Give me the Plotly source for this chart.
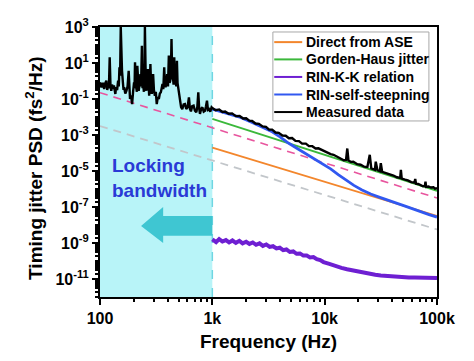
import plotly.graph_objects as go
import numpy as np

# ---------------- data ----------------
# Measured data: frequency (Hz) and log10 PSD (fs^2/Hz)
meas_f = [100, 103, 106, 109, 111, 114, 116, 118, 120, 122, 124, 126, 128, 130.6, 133, 135, 137,
          139, 142, 145, 147, 149, 151, 153, 155, 157, 160, 162, 164, 168, 172, 176, 180, 183,
          185, 189, 193, 197, 201, 203, 205, 208, 210, 213, 215, 218, 221, 225, 229, 232, 236,
          239, 242, 246, 249, 251, 253, 256, 259, 263, 267, 270, 274, 277, 281, 285, 289, 293,
          297, 302, 308, 314, 320, 327, 334, 341, 348, 354, 360, 366, 373, 378, 383, 390, 396,
          403, 410, 416, 422, 428, 433, 440, 446, 452, 458, 465, 471, 478, 484, 490, 497, 505,
          514, 527, 540, 555, 570, 586, 602, 619, 632, 645, 662, 681, 700, 720, 735, 750, 763,
          776, 795, 815, 838, 861, 878, 896, 914, 933, 958, 985,
          1000, 1070, 1150, 1230, 1300, 1400, 1500, 1620, 1750, 1880, 2000, 2130, 2260, 2420,
          2600, 2800, 3000, 3200, 3410, 3650, 3900, 4200, 4500, 4800, 5130, 5500, 5900, 6300,
          6800, 7250, 7760, 8300, 8800, 9200, 9800, 10500, 11300, 12000, 13000, 13900, 14800,
          15500, 15900, 16300, 17200, 18000, 19500, 20900, 22500, 24000, 25200, 26000, 27000,
          28000, 28500, 29500, 31000, 31600, 32500, 34500, 36000, 38500, 41000, 44000, 47000,
          47700, 48500, 52000, 55000, 59000, 63000, 64000, 65000, 68000, 72000, 75000, 78000,
          79000, 80000, 84000, 88000, 93000, 96000, 100000]
meas_log = [-0.07, -0.35, -0.1, -0.45, -0.15, 0.02, -0.5, -0.2, -0.4, 1.32, -0.26, -0.55, -0.2,
            -0.44, -0.25, -0.65, -0.72, -0.35, -0.5, 0.02, -0.3, 0.76, 0.3, 3.0, 0.6, 0.57, -0.1,
            -0.5, -0.35, -0.7, -0.54, -0.3, 0.57, -0.6, -1.0, -0.8, -1.28, -0.6, -0.07, -0.4,
            1.04, -0.2, -0.35, -0.6, 0.85, -0.3, -0.54, -0.2, 0.39, -0.3, 1.96, -0.4, -0.17,
            -0.6, 0.5, 3.0, 0.4, -0.3, -0.54, -0.2, 0.67, -0.4, -0.82, -0.3, 0.94, -0.3, -0.72,
            -0.4, 0.39, -0.5, -0.82, -0.6, -1.28, -0.9, -1.0, -0.7, -0.63, -0.4, -0.17, -0.45,
            0.76, -0.2, -0.35, -0.1, 0.39, -0.3, 1.41, -0.1, 0.02, 0.5, 2.33, 0.1, 0.2, -0.2,
            1.32, 0.0, -0.07, -0.3, 1.13, -0.1, -0.35, -0.8, -1.19, -1.45, -1.56, -1.3, -1.28,
            -1.55, -1.46, -0.91, -1.55, -1.69, -1.4, -1.37, -1.65, -1.74, -1.45, -0.63, -1.5,
            -1.83, -1.55, -1.46, -1.7, -1.65, -1.4, -1.09, -1.6, -1.56, -1.7, -1.46,
            -1.5, -1.62, -1.58, -1.72, -1.7, -1.82, -1.8, -1.95, -1.94, -2.08, -2.07, -2.2, -2.22,
            -2.36, -2.38, -2.52, -2.55, -2.7, -2.7, -2.86, -2.88, -3.03, -3.04, -3.18, -3.17,
            -3.33, -3.34, -3.48, -3.48, -3.62, -3.62, -3.75, -3.74, -3.8, -3.9, -3.95, -4.06,
            -4.1, -4.22, -4.28, -4.4, -4.38, -3.75, -4.42, -4.5, -4.48, -4.62, -4.65, -4.76,
            -4.78, -4.1, -4.86, -4.88, -4.94, -4.48, -4.96, -5.02, -4.56, -5.05, -5.1, -5.13,
            -5.22, -5.25, -5.35, -5.38, -4.94, -5.42, -5.48, -5.52, -5.62, -5.65, -5.44, -5.7,
            -5.72, -5.78, -5.85, -5.82, -5.59, -5.88, -5.86, -5.92, -5.9, -5.98, -5.96]

# Direct from ASE (orange)
ase_f = [1000, 100000]
ase_log = [-3.7, -7.5]

# Gorden-Haus jitter (green)
gh_f = [1000, 100000]
gh_log = [-2.11, -6.1]

# RIN-K-K relation (purple)
kk_f = [1000, 1080, 1150, 1230, 1320, 1410, 1510, 1620, 1740, 1860, 2000, 2140, 2290, 2450,
        2630, 2820, 3020, 3240, 3470, 3720, 3980, 4270, 4570, 4900, 5250, 5620, 6030, 6460,
        6920, 7410, 7940, 8510, 9120, 9770, 11000, 12600, 14100, 15800, 17800, 20000, 22400,
        25100, 28200, 31600, 35500, 39800, 44700, 50100, 56200, 63100, 70800, 79400, 89100, 100000]
kk_log = [-8.80, -8.95, -8.78, -8.92, -8.84, -8.97, -8.86, -8.99, -8.88, -9.02, -8.93, -9.05,
          -8.97, -9.1, -9.02, -9.16, -9.08, -9.22, -9.18, -9.3, -9.26, -9.4, -9.36, -9.5, -9.47,
          -9.6, -9.58, -9.7, -9.7, -9.8, -9.78, -9.9, -9.95, -10.06, -10.16, -10.3, -10.38,
          -10.46, -10.53, -10.6, -10.66, -10.71, -10.76, -10.8, -10.83, -10.86, -10.88, -10.9,
          -10.91, -10.92, -10.93, -10.94, -10.94, -10.95]

# RIN-self-steepening (blue)
ss_f = [1000, 1300, 1720, 2260, 2800, 3410, 4000, 4790, 5700, 6760, 8000, 9550, 11300, 13200,
        15500, 18200, 21500, 25700, 30500, 36300, 43000, 51300, 61000, 72400, 85000, 100000]
ss_log = [-1.56, -1.78, -1.99, -2.3, -2.55, -2.82, -3.1, -3.46, -3.75, -4.02, -4.3, -4.57,
          -4.88, -5.2, -5.5, -5.8, -6.05, -6.28, -6.45, -6.6, -6.77, -6.94, -7.1, -7.28, -7.42, -7.56]

# dashed guide lines
pink_f = [100, 100000]
pink_log = [-0.65, -6.5]
gray_f = [100, 100000]
gray_log = [-2.5, -8.25]

# locking-bandwidth arrow (frequency, log10 PSD)
arrow_f = [232, 365, 365, 1000, 1000, 365, 365, 232]
arrow_log = [-8.05, -7.0, -7.5, -7.5, -8.6, -8.6, -9.0, -8.05]

x_tickvals = [100, 1000, 10000, 100000]
x_ticktext = ["100", "1k", "10k", "100k"]
y_exps = [3, 1, -1, -3, -5, -7, -9, -11]

lock_bw = 1000

legend_names = ["Direct from ASE", "Gorden-Haus jitter", "RIN-K-K relation",
                "RIN-self-steepning", "Measured data"]
legend_colors = ["#f3862c", "#3bb83b", "#6e1fd2", "#3158f0", "black"]

# ---------------- figure ----------------
def p(v):
    return [10 ** x for x in v]

FONT = "Liberation Sans, Arial, sans-serif"
fig = go.Figure()

# shaded locking region
fig.add_vrect(x0=100, x1=lock_bw, fillcolor="#b8f4f8", opacity=1, line_width=0, layer="below")
fig.add_vline(x=lock_bw, line=dict(color="#6fd6e2", width=1.5, dash="dash"), layer="below")

fig.add_trace(go.Scatter(x=arrow_f, y=p(arrow_log), fill="toself", fillcolor="#3fc6d2",
                         line=dict(width=0, color="#3fc6d2"), mode="lines",
                         showlegend=False, hoverinfo="skip"))

fig.add_trace(go.Scatter(x=pink_f, y=p(pink_log), mode="lines", showlegend=False,
                         line=dict(color="#e8559e", width=1.6, dash="8px,6px")))
fig.add_trace(go.Scatter(x=gray_f, y=p(gray_log), mode="lines", showlegend=False,
                         line=dict(color="#c2c6ca", width=1.8, dash="8px,6px")))

fig.add_trace(go.Scatter(x=ase_f, y=p(ase_log), mode="lines", name=legend_names[0],
                         line=dict(color=legend_colors[0], width=1.8), showlegend=False))
fig.add_trace(go.Scatter(x=gh_f, y=p(gh_log), mode="lines", name=legend_names[1],
                         line=dict(color=legend_colors[1], width=1.8), showlegend=False))
fig.add_trace(go.Scatter(x=kk_f, y=p(kk_log), mode="lines", name=legend_names[2],
                         line=dict(color=legend_colors[2], width=4), showlegend=False))
fig.add_trace(go.Scatter(x=ss_f, y=p(ss_log), mode="lines", name=legend_names[3],
                         line=dict(color=legend_colors[3], width=2.8), showlegend=False))
fig.add_trace(go.Scatter(x=meas_f, y=p(meas_log), mode="lines", name=legend_names[4],
                         line=dict(color=legend_colors[4], width=2.4), showlegend=False))

# legend box drawn manually (compact spacing like the original)
fig.add_shape(type="rect", xref="paper", yref="paper", x0=0.513, x1=0.976, y0=0.652, y1=0.9815,
              fillcolor="white", line=dict(color="#a8a8a8", width=1))
row_y = [0.944, 0.880, 0.815, 0.750, 0.685]
for name, col, yy in zip(legend_names, legend_colors, row_y):
    fig.add_shape(type="line", xref="paper", yref="paper", x0=0.517, x1=0.600, y0=yy, y1=yy,
                  line=dict(color=col, width=2))
    fig.add_annotation(x=0.606, y=yy, xref="paper", yref="paper", text=name, showarrow=False,
                       xanchor="left", yanchor="middle",
                       font=dict(family=FONT, size=14, color="black", weight="bold"))

fig.add_annotation(x=np.log10(121.6), y=-5.4, xref="x", yref="y",
                   text="Locking<br>bandwidth", showarrow=False, xanchor="left", yanchor="middle",
                   align="left", font=dict(family=FONT, size=19, color="#2a3ad6", weight="bold"))

# y-axis title
fig.add_annotation(x=-0.196, y=0.478, xref="paper", yref="paper", textangle=-90,
                   text="Timing jitter PSD (fs<sup>2</sup>/Hz)", showarrow=False,
                   xanchor="center", yanchor="middle",
                   font=dict(family=FONT, size=19, color="black", weight="bold"))

fig.update_xaxes(type="log", range=[2, 5], tickvals=x_tickvals, ticktext=x_ticktext,
                 ticks="outside", ticklen=6, tickwidth=2, tickcolor="black",
                 showline=True, linecolor="black", linewidth=2, mirror=True, showgrid=False,
                 zeroline=False, automargin=False,
                 minor=dict(ticks="outside", ticklen=3, tickwidth=1.5, tickcolor="black", dtick="D1", showgrid=False),
                 tickfont=dict(family=FONT, size=16, color="black", weight="bold"),
                 title=dict(text="Frequency (Hz)", standoff=8,
                            font=dict(family=FONT, size=19, color="black", weight="bold")))
fig.update_yaxes(type="log", range=[-12, 3], tickvals=[10.0 ** e for e in y_exps],
                 ticktext=[f"10<sup>{e}</sup>" for e in y_exps],
                 ticks="outside", ticklen=6, tickwidth=2, tickcolor="black",
                 showline=True, linecolor="black", linewidth=2, mirror=True, showgrid=False,
                 zeroline=False, automargin=False,
                 minor=dict(ticks="outside", ticklen=3, tickwidth=1.5, tickcolor="black", dtick="D1", showgrid=False),
                 tickfont=dict(family=FONT, size=16, color="black", weight="bold"))

fig.update_layout(width=474, height=361, margin=dict(l=92, r=45, t=19, b=72),
                  plot_bgcolor="white", paper_bgcolor="white", showlegend=False)

fig.write_html("out.html")
